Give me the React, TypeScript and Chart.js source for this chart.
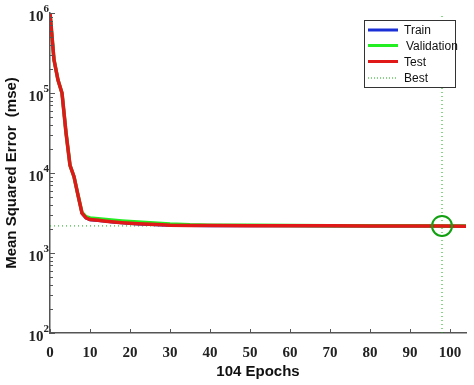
import React, { useEffect, useRef } from 'react';
import { Chart, registerables } from 'chart.js';

Chart.register(...registerables);

// ---- data ----
const epochs = [0, 1, 2, 3, 4, 5, 6, 7, 8, 9, 10, 12, 14, 16, 18, 20, 22, 25, 28, 30, 35, 40, 50, 60, 70, 80, 90, 98, 104];
const testMse = [1000000, 260000, 145000, 100000, 32000, 12500, 9000, 5300, 3150, 2750, 2620, 2560, 2500, 2440, 2390, 2350, 2320, 2280, 2250, 2230, 2210, 2200, 2195, 2190, 2185, 2180, 2175, 2170, 2165];
const validationMse = [1000000, 260000, 145000, 100000, 32000, 12500, 9000, 5300, 3200, 2850, 2740, 2680, 2620, 2570, 2520, 2480, 2440, 2390, 2340, 2300, 2250, 2230, 2215, 2205, 2195, 2190, 2185, 2180, 2175];
const trainMse = [1000000, 260000, 145000, 100000, 32000, 12500, 9000, 5300, 3140, 2740, 2610, 2550, 2490, 2430, 2380, 2340, 2310, 2270, 2240, 2220, 2205, 2195, 2190, 2185, 2180, 2175, 2170, 2165, 2160];
const bestEpoch = 98;
const bestMse = 2180;
const xRange = [0, 104];
const yRange = [100, 1000000];
const xTickValues = [0, 10, 20, 30, 40, 50, 60, 70, 80, 90, 100];
const xTickLabels = ['0', '10', '20', '30', '40', '50', '60', '70', '80', '90', '100'];
const yDecadeValues = [100, 1000, 10000, 100000, 1000000];
const yDecadeExponents = ['2', '3', '4', '5', '6'];
const legendNames = ['Train', 'Validation', 'Test', 'Best'];
const xTitle = '104 Epochs';
const yTitle = 'Mean Squared Error  (mse)';

const BLUE = '#1a2fd6';
const GREEN = '#22ee22';
const RED = '#e01818';
const BEST_GREEN = '#11aa11';
const AXIS = '#555555';

const toPoints = (ys: number[]) => epochs.map((e, i) => ({ x: e, y: ys[i] }));

const decorPlugin = {
  id: 'decor',
  afterDraw(chart: any) {
    const { ctx, chartArea, scales } = chart;
    const xs = scales.x;
    const ys = scales.y;
    ctx.save();
    ctx.strokeStyle = AXIS;
    ctx.lineWidth = 1;
    // x inward ticks + labels
    xTickValues.forEach((v, i) => {
      const px = Math.round(xs.getPixelForValue(v)) + 0.5;
      ctx.beginPath();
      ctx.moveTo(px, chartArea.bottom);
      ctx.lineTo(px, chartArea.bottom - 4);
      ctx.stroke();
      ctx.fillStyle = '#222222';
      ctx.font = 'bold 15px "Liberation Serif"';
      ctx.textAlign = 'center';
      ctx.textBaseline = 'alphabetic';
      ctx.fillText(xTickLabels[i], xs.getPixelForValue(v), chartArea.bottom + 24);
    });
    // y inward ticks (major + minor)
    yDecadeValues.forEach((d, i) => {
      const py = Math.round(ys.getPixelForValue(d)) + 0.5;
      ctx.beginPath();
      ctx.moveTo(chartArea.left, py);
      ctx.lineTo(chartArea.left + 5, py);
      ctx.stroke();
      if (i < yDecadeValues.length - 1) {
        for (let m = 2; m <= 9; m++) {
          const my = Math.round(ys.getPixelForValue(d * m)) + 0.5;
          ctx.beginPath();
          ctx.moveTo(chartArea.left, my);
          ctx.lineTo(chartArea.left + 3, my);
          ctx.stroke();
        }
      }
    });
    // y tick labels 10^n
    ctx.fillStyle = '#222222';
    ctx.textBaseline = 'alphabetic';
    yDecadeValues.forEach((d, i) => {
      const py = ys.getPixelForValue(d);
      ctx.font = 'bold 11px "Liberation Serif"';
      const ew = ctx.measureText(yDecadeExponents[i]).width;
      const right = chartArea.left - 1;
      ctx.textAlign = 'left';
      ctx.fillText(yDecadeExponents[i], right - ew, py - 1);
      ctx.font = 'bold 15px "Liberation Serif"';
      ctx.textAlign = 'right';
      ctx.fillText('10', right - ew, py + 8);
    });
    // legend
    const lx = 364, ly = 20, lw = 91, lh = 67;
    ctx.fillStyle = '#ffffff';
    ctx.fillRect(lx, ly, lw, lh);
    ctx.strokeStyle = '#333333';
    ctx.lineWidth = 1;
    ctx.strokeRect(lx + 0.5, ly + 0.5, lw, lh);
    const rows = [30, 45.5, 61.5, 78];
    const colors = [BLUE, GREEN, RED, BEST_GREEN];
    rows.forEach((ry, i) => {
      ctx.beginPath();
      ctx.strokeStyle = colors[i];
      if (i === 3) {
        ctx.lineWidth = 1;
        ctx.setLineDash([1, 2]);
      } else {
        ctx.lineWidth = 3;
        ctx.setLineDash([]);
      }
      ctx.moveTo(368, ry);
      ctx.lineTo(398, ry);
      ctx.stroke();
      ctx.setLineDash([]);
      ctx.fillStyle = '#111111';
      ctx.font = '12px "Liberation Sans"';
      ctx.textAlign = 'left';
      ctx.textBaseline = 'middle';
      ctx.fillText(legendNames[i], i === 1 ? 406 : 404, ry + 1);
    });
    ctx.restore();
  },
};

export default function App() {
  const ref = useRef<HTMLCanvasElement | null>(null);
  useEffect(() => {
    if (!ref.current) return;
    const chart = new Chart(ref.current, {
      type: 'line',
      data: {
        datasets: [
          {
            label: 'BestCircle',
            data: [{ x: bestEpoch, y: bestMse }],
            showLine: false,
            pointRadius: 10,
            pointBorderWidth: 2,
            pointBorderColor: '#10a010',
            pointBackgroundColor: 'rgba(0,0,0,0)',
            order: 0,
          },
          {
            label: 'Test',
            data: toPoints(testMse),
            borderColor: RED,
            borderWidth: 3.5,
            pointRadius: 0,
            tension: 0,
            order: 1,
          },
          {
            label: 'Validation',
            data: toPoints(validationMse),
            borderColor: GREEN,
            borderWidth: 3.5,
            pointRadius: 0,
            tension: 0,
            order: 2,
          },
          {
            label: 'Train',
            data: toPoints(trainMse),
            borderColor: BLUE,
            borderWidth: 3,
            pointRadius: 0,
            tension: 0,
            order: 3,
          },
          {
            label: 'BestV',
            data: [{ x: bestEpoch, y: yRange[0] }, { x: bestEpoch, y: yRange[1] }],
            borderColor: BEST_GREEN,
            borderWidth: 1,
            borderDash: [1, 3],
            pointRadius: 0,
            order: 4,
          },
          {
            label: 'BestH',
            data: [{ x: xRange[0], y: bestMse }, { x: xRange[1], y: bestMse }],
            borderColor: BEST_GREEN,
            borderWidth: 1,
            borderDash: [1, 3],
            pointRadius: 0,
            order: 4,
          },
        ],
      },
      options: {
        animation: false,
        responsive: false,
        maintainAspectRatio: false,
        layout: { autoPadding: false, padding: { top: 13, right: 8, left: 0, bottom: 0 } },
        plugins: { legend: { display: false }, tooltip: { enabled: false } },
        scales: {
          x: {
            type: 'linear',
            min: xRange[0],
            max: xRange[1],
            afterBuildTicks: (s: any) => {
              s.ticks = xTickValues.map((v) => ({ value: v }));
            },
            afterFit: (s: any) => {
              s.height = 52;
            },
            grid: { display: false, drawTicks: false },
            border: { display: true, color: AXIS, width: 1.5 },
            ticks: { display: false },
            title: {
              display: true,
              text: xTitle,
              color: '#111111',
              font: { family: '"Liberation Sans"', size: 15, weight: 'bold' },
              padding: { top: 0, bottom: 4 },
            },
          },
          y: {
            type: 'logarithmic',
            min: yRange[0],
            max: yRange[1],
            afterBuildTicks: (s: any) => {
              s.ticks = yDecadeValues.map((v) => ({ value: v }));
            },
            afterFit: (s: any) => {
              s.width = 50;
            },
            grid: { display: false, drawTicks: false },
            border: { display: true, color: AXIS, width: 1.5 },
            ticks: { display: false },
            title: {
              display: true,
              text: yTitle,
              color: '#111111',
              font: { family: '"Liberation Sans"', size: 15, weight: 'bold' },
              padding: { top: 3, bottom: 0 },
            },
          },
        },
      },
      plugins: [decorPlugin],
    });
    return () => chart.destroy();
  }, []);
  return (
    <div style={{ position: 'fixed', left: 0, top: 0, width: 474, height: 385, background: '#ffffff' }}>
      <canvas ref={ref} width={474} height={385} style={{ display: 'block' }} />
    </div>
  );
}
